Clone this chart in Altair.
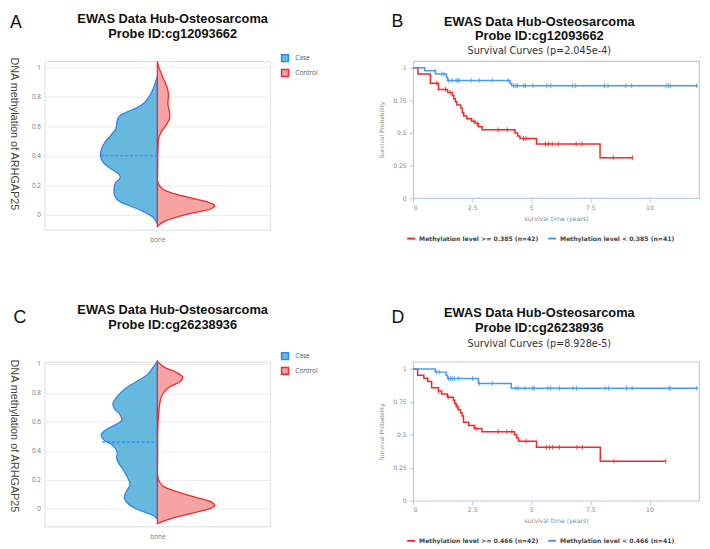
import altair as alt
import pandas as pd

# ---------------- Panel A: violin, probe cg12093662 ----------------
A_CASE_Y = [0.936, 0.896, 0.851, 0.807, 0.762, 0.729, 0.696, 0.662, 0.629, 0.584,
            0.54, 0.496, 0.451, 0.396, 0.351, 0.307, 0.273, 0.251, 0.218, 0.173,
            0.129, 0.096, 0.062, 0.029, -0.016, -0.06]
A_CASE_D = [0, 6, 13, 23, 38, 58, 93, 118, 123, 126,
            141, 158, 169, 173, 163, 138, 116, 113, 127, 132,
            130, 118, 85, 48, 13, 0]
A_CTRL_Y = [1.04, 0.996, 0.929, 0.862, 0.807, 0.751, 0.696, 0.651, 0.607, 0.562,
            0.518, 0.451, 0.296, 0.218, 0.173, 0.14, 0.107, 0.084, 0.062, 0.04,
            0.018, -0.016, -0.049, -0.078]
A_CTRL_D = [0, 5, 17, 30, 34, 32, 37, 37, 27, 12,
            4, 2, 1, 2, 17, 57, 117, 157, 175, 162,
            117, 57, 17, 0]
A_MEDIAN = 0.40
A_MEDIAN_D = 173

# ---------------- Panel C: violin, probe cg26238936 ----------------
C_CASE_Y = [1.018, 0.977, 0.932, 0.886, 0.83, 0.773, 0.727, 0.693, 0.648, 0.614,
            0.58, 0.545, 0.511, 0.477, 0.443, 0.398, 0.341, 0.284, 0.227, 0.17,
            0.125, 0.08, 0.034, -0.011, -0.045, -0.068]
C_CASE_D = [0, 13, 28, 58, 98, 123, 135, 131, 113, 108,
            128, 158, 171, 163, 138, 123, 123, 108, 93, 83,
            93, 101, 88, 53, 13, 0]
C_CTRL_Y = [1.018, 0.977, 0.943, 0.909, 0.875, 0.841, 0.795, 0.75, 0.682, 0.591,
            0.364, 0.205, 0.159, 0.114, 0.08, 0.045, 0.023, 0.0, -0.023, -0.057,
            -0.086, -0.102]
C_CTRL_D = [0, 22, 57, 77, 67, 37, 17, 9, 5, 2,
            1, 3, 17, 67, 117, 167, 175, 157, 117, 57,
            17, 0]
C_MEDIAN = 0.461
C_MEDIAN_D = 168

# ---------------- Panel B: survival, cg12093662 ----------------
B_HI_LABEL = "Methylation level >= 0.385 (n=42)"
B_LO_LABEL = "Methylation level < 0.385 (n=41)"
B_HI_T = [0, 0.2, 0.73, 1.07, 1.46, 1.66, 1.72, 1.78, 1.85, 2.02, 2.08, 2.14,
          2.27, 2.47, 2.62, 2.76, 2.92, 4.31, 4.42, 4.52, 5.22, 7.91, 9.28]
B_HI_S = [1.0, 0.952, 0.881, 0.833, 0.81, 0.786, 0.762, 0.738, 0.714, 0.69, 0.655, 0.63,
          0.608, 0.59, 0.572, 0.548, 0.524, 0.5, 0.476, 0.457, 0.415, 0.31, 0.31]
B_HI_CT = [1.0, 1.37, 1.56, 2.57, 2.72, 3.6, 3.98, 4.67, 4.77, 5.6, 5.73, 5.89,
           6.16, 6.9, 7.14, 8.47, 9.28]
B_HI_CS = [0.881, 0.833, 0.81, 0.59, 0.572, 0.524, 0.524, 0.457, 0.457, 0.415, 0.415, 0.415,
           0.415, 0.415, 0.415, 0.31, 0.31]
B_LO_T = [0, 0.49, 0.95, 1.41, 1.45, 4.1, 4.17, 12.05]
B_LO_S = [1.0, 0.976, 0.951, 0.927, 0.902, 0.878, 0.862, 0.862]
B_LO_CT = [0.93, 1.21, 1.3, 1.5, 1.64, 1.82, 1.9, 1.94, 2.45, 2.79,
           3.35, 4.02, 4.25, 4.35, 4.42, 4.68, 4.75, 5.07, 5.66, 5.82,
           6.75, 6.88, 8.1, 8.25, 9.0, 9.25, 10.7, 10.8, 10.88, 12.0]
B_LO_CS = [0.976, 0.951, 0.951, 0.902, 0.902, 0.902, 0.902, 0.902, 0.902, 0.902,
           0.902, 0.902, 0.862, 0.862, 0.862, 0.862, 0.862, 0.862, 0.862, 0.862,
           0.862, 0.862, 0.862, 0.862, 0.862, 0.862, 0.862, 0.862, 0.862, 0.862]

# ---------------- Panel D: survival, cg26238936 ----------------
D_HI_LABEL = "Methylation level >= 0.466 (n=42)"
D_LO_LABEL = "Methylation level < 0.466 (n=41)"
D_HI_T = [0, 0.19, 0.45, 0.62, 0.78, 1.07, 1.2, 1.45, 1.7, 1.76, 1.82, 1.9,
          2.0, 2.07, 2.13, 2.35, 2.58, 2.91, 4.29, 4.38, 4.46, 5.22, 7.92, 10.69]
D_HI_S = [1.0, 0.952, 0.929, 0.905, 0.857, 0.833, 0.81, 0.786, 0.762, 0.738, 0.714, 0.69,
          0.667, 0.643, 0.595, 0.571, 0.548, 0.524, 0.5, 0.476, 0.452, 0.405, 0.30, 0.30]
D_HI_CT = [1.07, 1.48, 1.87, 2.66, 3.6, 3.97, 4.18, 4.78, 5.64, 5.78, 5.91, 6.19,
           6.93, 7.16, 8.5, 10.69]
D_HI_CS = [0.833, 0.786, 0.714, 0.548, 0.524, 0.524, 0.524, 0.452, 0.405, 0.405, 0.405, 0.405,
           0.405, 0.405, 0.30, 0.30]
D_LO_T = [0, 0.93, 1.4, 1.46, 2.76, 4.15, 12.05]
D_LO_S = [1.0, 0.976, 0.951, 0.927, 0.89, 0.853, 0.853]
D_LO_CT = [1.0, 1.1, 1.5, 1.58, 1.66, 1.75, 1.93, 2.52, 2.8, 3.35,
           4.35, 4.45, 4.74, 5.06, 5.12, 5.7, 5.82, 6.19, 6.77, 6.91,
           8.13, 8.27, 9.03, 9.27, 10.83, 10.88, 12.0]
D_LO_CS = [0.976, 0.976, 0.927, 0.927, 0.927, 0.927, 0.927, 0.927, 0.89, 0.89,
           0.853, 0.853, 0.853, 0.853, 0.853, 0.853, 0.853, 0.853, 0.853, 0.853,
           0.853, 0.853, 0.853, 0.853, 0.853, 0.853, 0.853]

TITLE_L1 = "EWAS Data Hub-Osteosarcoma"
PROBE_1 = "Probe ID:cg12093662"
PROBE_2 = "Probe ID:cg26238936"
SUB_B = "Survival Curves (p=2.045e-4)"
SUB_D = "Survival Curves (p=8.928e-5)"

CASE_FILL, CASE_LINE = "#66b8dc", "#2b87f0"
CTRL_FILL, CTRL_LINE = "#f5a3a3", "#f02a2a"
KM_RED, KM_BLUE = "#f0282a", "#4a9aea"
FRAME = "#b9c9ec"


def letter_layer(letter, lx, ly):
    return alt.Chart(pd.DataFrame({"L": [letter]})).mark_text(
        align="left", baseline="alphabetic", font="Liberation Sans",
        fontSize=18, color="#111"
    ).encode(text="L:N", x=alt.value(lx), y=alt.value(ly))


def violin(case_y, case_d, ctrl_y, ctrl_d, med, med_d, probe, letter, lxy,
           ydom, height, ytitle_y, legend_y, title_dy):
    df = pd.concat([
        pd.DataFrame({"y": case_y, "d": case_d, "group": "Case"}),
        pd.DataFrame({"y": ctrl_y, "d": ctrl_d, "group": "Control"}),
    ])
    ysc = alt.Scale(domain=ydom, nice=False, zero=False)
    xsc = alt.Scale(domain=[-343.5, 343.5], nice=False)
    yax = alt.Axis(values=[0, 0.2, 0.4, 0.6, 0.8, 1], format=".1~f", grid=True,
                   gridColor="#ececec", domain=False, ticks=False,
                   labelColor="#777", labelFont="Open Sans", labelFontSize=6.5,
                   labelPadding=4, labelOverlap=False,
                   title="DNA methylation of ARHGAP25",
                   titleAngle=90, titleX=-31, titleY=ytitle_y,
                   titleAlign="center", titleBaseline="middle",
                   titleFont="Liberation Sans", titleFontSize=11,
                   titleFontWeight="normal", titleColor="#444")
    xax = alt.Axis(values=[0], labelExpr="'bone'", domain=False, ticks=False,
                   grid=False, title=None, labelColor="#777",
                   labelFont="Open Sans", labelFontSize=6.5, labelPadding=7)
    leg = alt.Legend(title=None, orient="none", legendX=239.5, legendY=legend_y,
                     symbolType="square", symbolSize=49, symbolStrokeWidth=1.5,
                     labelFont="Open Sans", labelFontSize=6.5, labelColor="#555",
                     labelOffset=6, rowPadding=2, padding=0)
    area = alt.Chart(df).transform_calculate(
        xs="datum.group === 'Case' ? -datum.d : datum.d"
    ).mark_area(orient="horizontal", interpolate="catmull-rom",
                strokeWidth=1.3, fillOpacity=1).encode(
        y=alt.Y("y:Q", scale=ysc, axis=yax),
        x=alt.X("xs:Q", scale=xsc, axis=xax, stack=None),
        fill=alt.Fill("group:N", scale=alt.Scale(domain=["Case", "Control"],
                      range=[CASE_FILL, CTRL_FILL]), legend=leg),
        stroke=alt.Stroke("group:N", scale=alt.Scale(domain=["Case", "Control"],
                          range=[CASE_LINE, CTRL_LINE]), legend=leg),
    )
    med_df = pd.DataFrame({"m": [med], "d": [med_d]})
    median = alt.Chart(med_df).transform_calculate(xl="-datum.d").mark_rule(
        color=CASE_LINE, strokeDash=[3, 2], strokeWidth=1.2
    ).encode(y=alt.Y("m:Q", scale=ysc, axis=yax),
             x=alt.X("xl:Q", scale=xsc, axis=xax), x2=alt.datum(0))
    return alt.layer(area, median, letter_layer(letter, *lxy)).properties(
        width=229, height=height,
        title=alt.TitleParams(text=[TITLE_L1, probe], font="Liberation Sans",
                              fontSize=13, fontWeight="bold", color="#111",
                              lineHeight=15, anchor="middle", frame="group",
                              offset=0, dx=15.5, dy=title_dy),
    )


def km(hi_t, hi_s, lo_t, lo_s, hi_ct, hi_cs, lo_ct, lo_cs, hi_lab, lo_lab,
       probe, sub, letter, lxy, ydom, height, legend_y, title_dy, line_h, sub_pad):
    steps = pd.concat([
        pd.DataFrame({"t": hi_t, "s": hi_s, "grp": hi_lab}),
        pd.DataFrame({"t": lo_t, "s": lo_s, "grp": lo_lab}),
    ])
    xsc = alt.Scale(domain=[0, 12.1], nice=False, zero=False)
    ysc = alt.Scale(domain=ydom, nice=False)
    common = dict(grid=False, domain=False, tickColor=FRAME, tickSize=4,
                  labelColor="#8a8a8a", labelFont="DejaVu Sans", labelFontSize=6.2,
                  titleColor="#8a8a8a", titleFont="DejaVu Sans",
                  titleFontWeight="normal", labelOverlap=False)
    xax = alt.Axis(values=[0, 2.5, 5, 7.5, 10], format=".1~f",
                   title="survival time (years)",
                   labelPadding=2, titleFontSize=6.3, titlePadding=5, **common)
    yax = alt.Axis(values=[0, 0.25, 0.5, 0.75, 1], format=".2~f",
                   title="Survival Probability",
                   labelPadding=3, titleFontSize=6.0, titlePadding=8, **common)
    leg = alt.Legend(title=None, orient="none", legendX=-7, legendY=legend_y,
                     direction="horizontal", symbolType="stroke", symbolSize=64,
                     symbolStrokeWidth=2, labelFont="DejaVu Sans", labelFontSize=6.2,
                     labelFontWeight="bold", labelColor="#444", labelOffset=3,
                     columnPadding=6, padding=0)
    lines = alt.Chart(steps).mark_line(interpolate="step-after", strokeWidth=1.5).encode(
        x=alt.X("t:Q", scale=xsc, axis=xax),
        y=alt.Y("s:Q", scale=ysc, axis=yax),
        color=alt.Color("grp:N", scale=alt.Scale(domain=[hi_lab, lo_lab],
                        range=[KM_RED, KM_BLUE]), legend=leg),
    )

    def cens(ct, cs, col):
        return alt.Chart(pd.DataFrame({"t": ct, "s": cs})).mark_point(
            shape="M0,-1L0,1", size=25, strokeWidth=1, color=col,
            opacity=0.85, filled=False
        ).encode(x=alt.X("t:Q", scale=xsc, axis=xax), y=alt.Y("s:Q", scale=ysc, axis=yax))

    return alt.layer(lines, cens(hi_ct, hi_cs, KM_RED), cens(lo_ct, lo_cs, KM_BLUE),
                     letter_layer(letter, *lxy)).properties(
        width=290, height=height,
        view=alt.ViewBackground(stroke=FRAME, strokeWidth=1.2),
        title=alt.TitleParams(text=[TITLE_L1, probe], subtitle=sub,
                              font="Liberation Sans", fontSize=13,
                              fontWeight="bold", color="#111", lineHeight=line_h,
                              subtitleFont="DejaVu Sans", subtitleFontSize=9.8,
                              subtitleColor="#333", subtitlePadding=sub_pad,
                              anchor="middle", frame="group", offset=0,
                              dx=-17, dy=title_dy),
    )


pA = violin(A_CASE_Y, A_CASE_D, A_CTRL_Y, A_CTRL_D, A_MEDIAN, A_MEDIAN_D, PROBE_1,
            "A", (-35, -34), [-0.1, 1.04], 171, 73.3, -7.5, 27.5)
pB = km(B_HI_T, B_HI_S, B_LO_T, B_LO_S, B_HI_CT, B_HI_CS, B_LO_CT, B_LO_CS,
        B_HI_LABEL, B_LO_LABEL, PROBE_1, SUB_B, "B", (-22, -35), [0, 1.05], 139,
        175, 43.3, 14.5, 3)
pC = violin(C_CASE_Y, C_CASE_D, C_CTRL_Y, C_CTRL_D, C_MEDIAN, C_MEDIAN_D, PROBE_2,
            "C", (-31.3, -39.4), [-0.12, 1.016], 167, 74.8, -10.2, 23.5)
pD = km(D_HI_T, D_HI_S, D_LO_T, D_LO_S, D_HI_CT, D_HI_CS, D_LO_CT, D_LO_CS,
        D_HI_LABEL, D_LO_LABEL, PROBE_2, SUB_D, "D", (-22, -39.4), [0, 1.055], 141,
        176.7, 40.5, 15.5, 4)

chart = alt.concat(
    pA, pB, pC, pD, columns=2, spacing={"row": 133.9, "column": 145},
    bounds="flush", align="each"
).resolve_scale(
    color="independent", fill="independent", stroke="independent"
).resolve_legend(
    color="independent", fill="independent", stroke="independent"
).configure_view(stroke=None).configure(background="white").properties(padding=0)

chart.save("out.html", embed_options={"renderer": "svg", "actions": False})
